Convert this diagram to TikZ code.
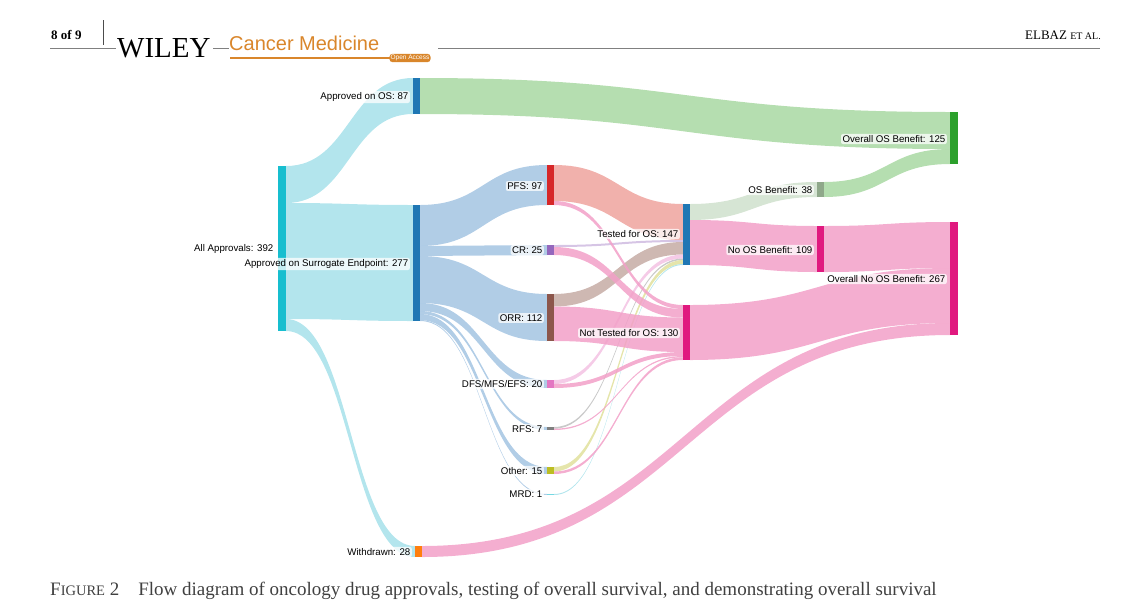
\documentclass[tikz,border=0pt]{standalone}
\usepackage{fontspec}
\setmainfont{Liberation Sans}
\newfontfamily\serif{Liberation Serif}
\usepackage{tikz}
\definecolor{cyanbar}{HTML}{17BECF}
\definecolor{bluebar}{HTML}{1F77B4}
\definecolor{redbar}{HTML}{D62728}
\definecolor{purplebar}{HTML}{9467BD}
\definecolor{brownbar}{HTML}{8C564B}
\definecolor{pinkbar}{HTML}{E377C2}
\definecolor{graybar}{HTML}{7F7F7F}
\definecolor{olivebar}{HTML}{BCBD22}
\definecolor{orangebar}{HTML}{FF7F0E}
\definecolor{magentabar}{HTML}{E0197F}
\definecolor{greenbar}{HTML}{2CA02C}
\definecolor{sagebar}{HTML}{8FA88A}
\definecolor{cyanflow}{HTML}{A6E1EA}
\definecolor{blueflow}{HTML}{A3C4E2}
\definecolor{greenflow}{HTML}{A8D8A2}
\definecolor{sageflow}{HTML}{CFE0CC}
\definecolor{redflow}{HTML}{EFA39E}
\definecolor{pinkflow}{HTML}{F2A0C8}
\definecolor{wiley}{HTML}{D9862B}
\tikzstyle{label} = [font=\fontsize{9.7}{10}\selectfont, fill=white, fill opacity=0.75, text opacity=1, rounded corners=2pt, inner sep=1.5pt, anchor=east]
\tikzstyle{bar} = [draw=none]
\tikzstyle{band} = [fill opacity=0.85]
% band between two bars: x1,top1,bot1,x2,top2,bot2,colour
\newcommand{\flow}[7]{\fill[band,#7] (#1,#2) .. controls ({(#1+#4)/2},#2) and ({(#1+#4)/2},#5) .. (#4,#5) -- (#4,#6) .. controls ({(#1+#4)/2},#6) and ({(#1+#4)/2},#3) .. (#1,#3) -- cycle;}
\newcommand{\barat}[5]{\fill[bar,#5] (#1,#2) rectangle (#3,#4);}
\begin{document}
\begin{tikzpicture}[x=1pt,y=-1pt]
\useasboundingbox (0,0) rectangle (1134,600);

% header
\node (page) [anchor=west, inner sep=0pt, font=\serif\bfseries\fontsize{13}{14}\selectfont] at (51,35) {8 of 9};
\draw [black!70] (103,20) -- (103,45);
\draw [gray, line width=1pt] (50,48) -- (116,48);
\node (wiley) [anchor=west, inner sep=0pt, font=\serif\fontsize{29}{30}\selectfont] at (117,48) {WILEY};
\draw [gray, line width=1pt] (213,48) -- (229,48);
\node (journal) [anchor=west, inner sep=0pt, text=wiley, font=\fontsize{20}{21}\selectfont] at (229,43) {Cancer Medicine};
\draw [wiley, line width=2.5pt] (230,58) -- (390,58);
\node (open access) [fill=wiley, text=white, rounded corners=3pt, inner sep=1.2pt, font=\fontsize{6.5}{7}\selectfont] at (410,58) {Open Access};
\draw [gray, line width=1pt] (438,48) -- (1100,48);
\node (authors) [anchor=east, inner sep=0pt, font=\serif\fontsize{13}{14}\selectfont] at (1101,35) {ELBAZ {\fontsize{10}{11}\selectfont ET AL.}};

% flows
\flow{286}{166}{203}{413}{78}{114}{cyanflow}
\flow{286}{203}{319}{413}{205}{321}{cyanflow}
\flow{286}{319}{331}{415}{546}{557}{cyanflow}
\flow{420}{78}{114}{950}{112}{149}{greenflow}
\flow{420}{205}{246}{547}{165}{205}{blueflow}
\flow{420}{246}{256}{547}{245}{255}{blueflow}
\flow{420}{256}{303}{547}{294}{341}{blueflow}
\flow{420}{303}{311}{547}{380}{388}{blueflow}
\flow{420}{311}{314}{547}{427}{430}{blueflow}
\flow{420}{314}{320}{547}{467}{474}{blueflow}
\flow{420}{320}{321}{547}{494}{495}{blueflow}
\flow{554}{165}{201}{683}{204}{240}{redflow}
\flow{554}{245}{247}{683}{240}{242}{purplebar!45}
\flow{554}{294}{306.5}{683}{242}{254.5}{brownbar!50}
\flow{554}{380}{384}{683}{254.5}{258.5}{pinkbar!45}
\flow{554}{427}{428.7}{683}{258.5}{260}{graybar!50}
\flow{554}{467}{471.5}{683}{260}{264}{olivebar!45}
\flow{554}{494}{495}{683}{264}{265}{cyanflow}
\flow{554}{201}{205}{683}{305}{309}{pinkflow}
\flow{554}{247}{255}{683}{309}{317.5}{pinkflow}
\flow{554}{306.5}{341}{683}{317.5}{352}{pinkflow}
\flow{554}{384}{388}{683}{352}{356}{pinkflow}
\flow{554}{428.7}{430}{683}{356}{357.3}{pinkflow}
\flow{554}{471.5}{474}{683}{357.3}{360}{pinkflow}
\flow{690}{204}{220}{817}{182}{197}{sageflow}
\flow{690}{220}{265}{817}{226}{272}{pinkflow}
\flow{690}{305}{360}{950}{268}{323}{pinkflow}
\flow{824}{182}{197}{950}{149}{164}{greenflow}
\flow{824}{226}{272}{950}{222}{268}{pinkflow}
\flow{422}{546}{557}{950}{323}{335}{pinkflow}

% bars
\barat{278}{166}{286}{331}{cyanbar}
\barat{413}{78}{420}{114}{bluebar}
\barat{413}{205}{420}{321}{bluebar}
\barat{415}{546}{422}{557}{orangebar}
\barat{547}{165}{554}{205}{redbar}
\barat{547}{245}{554}{255}{purplebar}
\barat{547}{294}{554}{341}{brownbar}
\barat{547}{380}{554}{388}{pinkbar}
\barat{547}{427}{554}{430}{graybar}
\barat{547}{467}{554}{474}{olivebar}
\barat{547}{494}{554}{495}{cyanbar!60}
\barat{683}{204}{690}{265}{bluebar}
\barat{683}{305}{690}{360}{magentabar}
\barat{817}{182}{824}{197}{sagebar}
\barat{817}{226}{824}{272}{magentabar}
\barat{950}{112}{958}{164}{greenbar}
\barat{950}{222}{958}{335}{magentabar}

% labels
\node (all) [label] at (275,249) {All Approvals: 392};
\node (os) [label] at (410,97) {Approved on OS: 87};
\node (surrogate) [label] at (410,264) {Approved on Surrogate Endpoint: 277};
\node (withdrawn) [label] at (412,552) {Withdrawn: 28};
\node (pfs) [label] at (544,186) {PFS: 97};
\node (cr) [label] at (544,250) {CR: 25};
\node (orr) [label] at (544,318) {ORR: 112};
\node (dfs) [label] at (544,384) {DFS/MFS/EFS: 20};
\node (rfs) [label] at (544,429) {RFS: 7};
\node (other) [label] at (544,471) {Other: 15};
\node (mrd) [label] at (544,494) {MRD: 1};
\node (tested) [label] at (680,234) {Tested for OS: 147};
\node (not tested) [label] at (680,333) {Not Tested for OS: 130};
\node (benefit) [label] at (814,190) {OS Benefit: 38};
\node (no benefit) [label] at (814,250) {No OS Benefit: 109};
\node (overall benefit) [label] at (947,139) {Overall OS Benefit: 125};
\node (overall no benefit) [label] at (947,279) {Overall No OS Benefit: 267};

% caption
\node (caption) [anchor=west, inner sep=0pt, font=\serif\fontsize{19}{20}\selectfont, text=black!75] at (50,591) {F{\fontsize{14.5}{15}\selectfont IGURE} 2\quad Flow diagram of oncology drug approvals, testing of overall survival, and demonstrating overall survival};
\end{tikzpicture}
\end{document}
